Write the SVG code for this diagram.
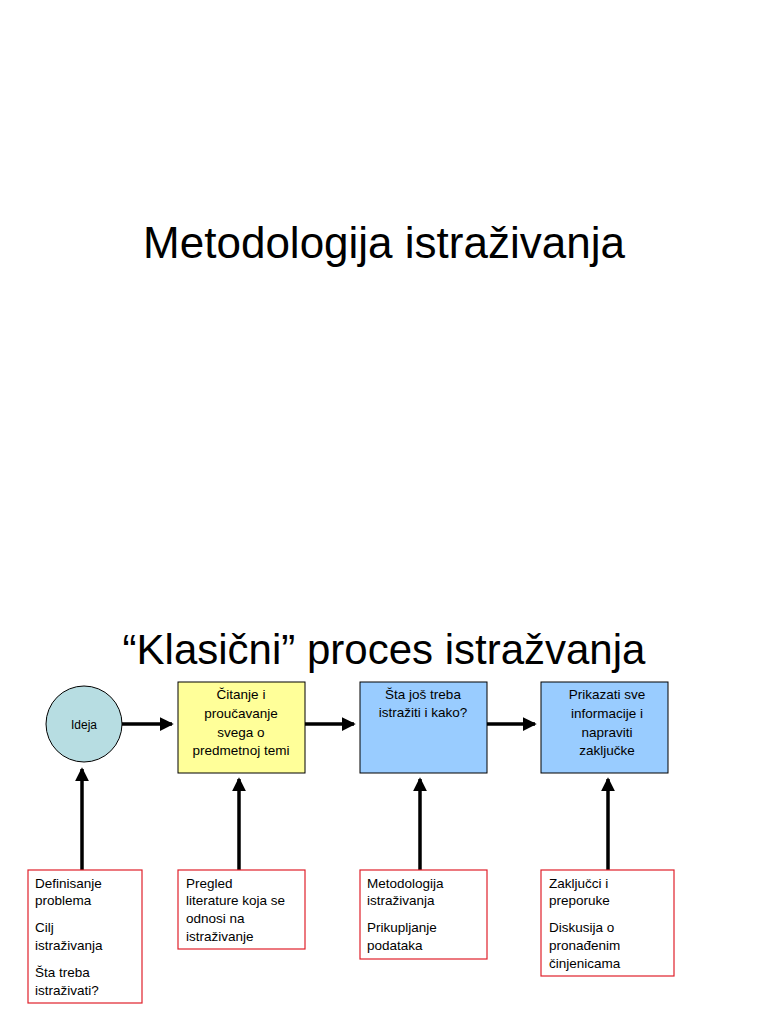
<svg xmlns="http://www.w3.org/2000/svg" width="768" height="1024" viewBox="0 0 768 1024">
<style>
text{font-family:"Liberation Sans",Arial,sans-serif;fill:#000}
.t{font-size:13.5px}
.c{text-anchor:middle}
.box{stroke:#000;stroke-width:1}
.red{fill:#fff;stroke:#e0202a;stroke-width:1.2}
.con{stroke:#000;stroke-width:3.5;fill:none;marker-end:url(#ah)}
</style>
<defs><marker id="ah" markerWidth="4" markerHeight="4" refX="3.5" refY="2" orient="auto"><path d="M0,0L4,2L0,4z" fill="#000"/></marker></defs>
<rect width="768" height="1024" fill="#fff"/>
<text x="384" y="258" class="c" font-size="44">Metodologija istraživanja</text>
<text x="384" y="664" class="c" font-size="42">“Klasični” proces istražvanja</text>
<g id="connectors">
<path class="con" d="M122,724H172"/>
<path class="con" d="M305,724H354"/>
<path class="con" d="M487,724H535"/>
<path class="con" d="M82,870V769"/>
<path class="con" d="M239,870V779"/>
<path class="con" d="M420,870V779"/>
<path class="con" d="M608,870V779"/>
</g>
<g id="ideja"><circle cx="84" cy="724" r="38" fill="#b7dde2" class="box"/><text x="84" y="729" class="c" font-size="12">Ideja</text></g>
<g id="citanje"><rect x="178" y="682" width="127" height="91" fill="#ffff99" class="box"/>
<text class="t c" x="241"><tspan x="241" y="699">Čitanje i</tspan><tspan x="241" y="718">proučavanje</tspan><tspan x="241" y="737">svega o</tspan><tspan x="241" y="755">predmetnoj temi</tspan></text></g>
<g id="sta"><rect x="360" y="682" width="127" height="91" fill="#99ccff" class="box"/>
<text class="t c"><tspan x="423" y="699">Šta još treba</tspan><tspan x="423" y="717">istražiti i kako?</tspan></text></g>
<g id="prikazati"><rect x="541" y="682" width="127" height="91" fill="#99ccff" class="box"/>
<text class="t c"><tspan x="607" y="699">Prikazati sve</tspan><tspan x="607" y="718">informacije i</tspan><tspan x="607" y="737">napraviti</tspan><tspan x="607" y="755">zaključke</tspan></text></g>
<g id="r1"><rect x="28" y="870" width="114" height="133" class="red"/>
<text class="t"><tspan x="35" y="888">Definisanje</tspan><tspan x="35" y="905">problema</tspan><tspan x="35" y="932">Cilj</tspan><tspan x="35" y="950">istraživanja</tspan><tspan x="35" y="977">Šta treba</tspan><tspan x="35" y="995">istraživati?</tspan></text></g>
<g id="r2"><rect x="178" y="870" width="127" height="79" class="red"/>
<text class="t"><tspan x="186" y="888">Pregled</tspan><tspan x="186" y="905">literature koja se</tspan><tspan x="186" y="923">odnosi na</tspan><tspan x="186" y="941">istraživanje</tspan></text></g>
<g id="r3"><rect x="360" y="870" width="127" height="89" class="red"/>
<text class="t"><tspan x="367" y="888">Metodologija</tspan><tspan x="367" y="905">istraživanja</tspan><tspan x="367" y="932">Prikupljanje</tspan><tspan x="367" y="950">podataka</tspan></text></g>
<g id="r4"><rect x="541" y="870" width="133" height="106" class="red"/>
<text class="t"><tspan x="549" y="888">Zaključci i</tspan><tspan x="549" y="905">preporuke</tspan><tspan x="549" y="932">Diskusija o</tspan><tspan x="549" y="950">pronađenim</tspan><tspan x="549" y="968">činjenicama</tspan></text></g>
</svg>
